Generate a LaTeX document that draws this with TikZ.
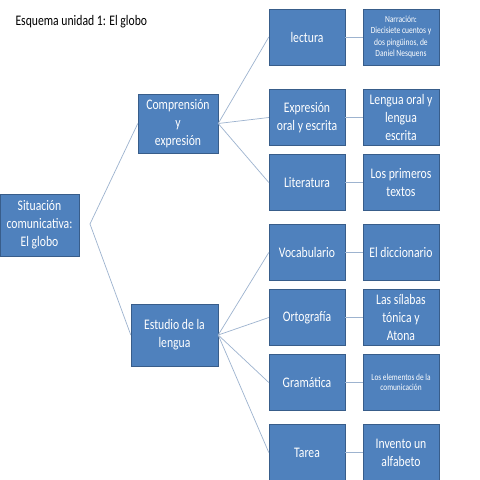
\documentclass[tikz,border=0pt]{standalone}
\usepackage{fontspec}
\setmainfont[FakeStretch=0.8]{Carlito}
\usetikzlibrary{positioning}
\definecolor{boxfill}{HTML}{4F81BD}
\definecolor{boxline}{HTML}{385D8A}
\definecolor{linkline}{HTML}{9DB3CF}
\newcommand{\boxfont}{\fontsize{14.6}{18}\selectfont}
\newcommand{\smallbox}{\fontsize{9.4}{11.5}\selectfont}
\newcommand{\smallerbox}{\fontsize{9.2}{10}\selectfont}
\tikzset{
  box/.style={draw=boxline, fill=boxfill, text=white, align=center,
    minimum width=76pt, minimum height=56pt, inner sep=1pt, font=\boxfont},
  link/.style={draw=linkline, line width=0.7pt}
}
\begin{document}
\begin{tikzpicture}[node distance = 65pt, auto]
    \useasboundingbox[fill=white] (0,0) rectangle (480pt,-480pt);
	\node[anchor=west,font=\fontsize{14.6}{16}\selectfont] (titulo) at (12pt,-22pt) {Esquema unidad 1: El globo};

	\node[box,minimum width=79pt,minimum height=62pt] (situacion) at (39.5pt,-225pt) {Situación\\comunicativa:\\El globo};
	\coordinate (vsituacion) at (90pt,-224pt);

	\node[box,minimum width=80pt,minimum height=59pt] (comprension) at (178pt,-123.5pt) {Comprensión\\y\\expresión};
    \draw[link] (vsituacion) -- (comprension.west);
	\node[box,minimum width=87pt,minimum height=62pt] (estudio) at (174.5pt,-335pt) {Estudio de la\\lengua};
    \draw[link] (vsituacion) -- (estudio.west);

	\node[box] (lectura) at (307pt,-37pt) {lectura};
    \draw[link] (comprension.east) -- (lectura.west);
	\node[below of=lectura,node distance=80.5pt,box] (expresion) {Expresión\\oral y escrita};
    \draw[link] (comprension.east) -- (expresion.west);
	\node[below of=expresion,box] (literatura) {Literatura};
    \draw[link] (comprension.east) -- (literatura.west);

	\node[below of=literatura,node distance=70pt,box] (vocabulario) {Vocabulario};
    \draw[link] (estudio.east) -- (vocabulario.west);
	\node[below of=vocabulario,box] (ortografia) {Ortografía};
    \draw[link] (estudio.east) -- (ortografia.west);
	\node[below of=ortografia,box] (gramatica) {Gramática};
    \draw[link] (estudio.east) -- (gramatica.west);
	\node[below of=gramatica,node distance=70pt,box] (tarea) {Tarea};
    \draw[link] (estudio.east) -- (tarea.west);

	\node[right of=lectura,node distance=94pt,box,font=\smallbox] (narracion) {Narración:\\Diecisiete cuentos y\\dos pingüinos, de\\Daniel Nesquens};
    \draw[link] (lectura) -- (narracion);
	\node[right of=expresion,node distance=94pt,box] (lenguaoral) {Lengua oral y\\lengua\\escrita};
    \draw[link] (expresion) -- (lenguaoral);
	\node[right of=literatura,node distance=94pt,box] (primeros) {Los primeros\\textos};
    \draw[link] (literatura) -- (primeros);
	\node[right of=vocabulario,node distance=94pt,box] (diccionario) {El diccionario};
    \draw[link] (vocabulario) -- (diccionario);
	\node[right of=ortografia,node distance=94pt,box] (silabas) {Las sílabas\\tónica y\\Atona};
    \draw[link] (ortografia) -- (silabas);
	\node[right of=gramatica,node distance=94pt,box,font=\smallerbox] (elementos) {Los elementos de la\\comunicación};
    \draw[link] (gramatica) -- (elementos);
	\node[right of=tarea,node distance=94pt,box] (invento) {Invento un\\alfabeto};
    \draw[link] (tarea) -- (invento);
\end{tikzpicture}
\end{document}
